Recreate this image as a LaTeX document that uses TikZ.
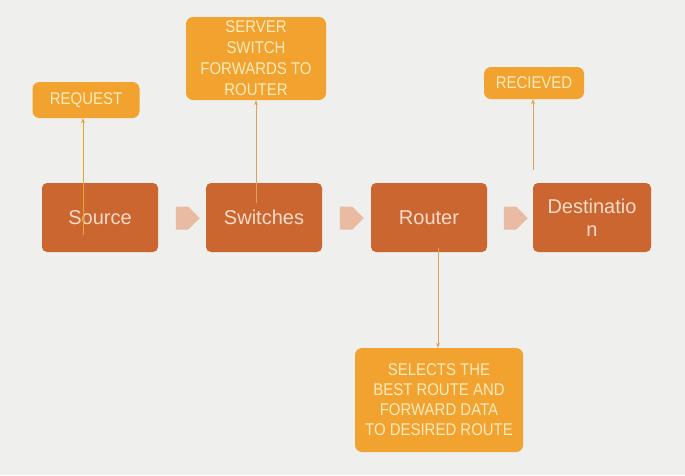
\documentclass[tikz,border=0pt]{standalone}
\usepackage{fontspec}
\setmainfont{Liberation Sans}
\newfontfamily\notefont[FakeStretch=0.88]{Liberation Sans}
\usetikzlibrary{arrows.meta,shapes.arrows}
\definecolor{bg}{HTML}{EFEFED}
\definecolor{mainbox}{HTML}{CC6631}
\definecolor{notebox}{HTML}{F2A22F}
\definecolor{chev}{HTML}{E8BBA2}
\definecolor{link}{HTML}{D9A460}
\definecolor{linkb}{HTML}{E9A42A}
\definecolor{maintext}{HTML}{F6DCC8}
\definecolor{notetext}{HTML}{FCEBBE}
\tikzset{
  mainnode/.style={fill=mainbox, rounded corners=5pt, minimum width=116pt, minimum height=69pt, text=maintext, font=\fontsize{20}{23}\selectfont, align=center, inner sep=0pt},
  notenode/.style={fill=notebox, rounded corners=7pt, text=notetext, font=\notefont\fontsize{17}{21}\selectfont, align=center, inner sep=0pt},
  chevron/.style={single arrow, fill=chev, minimum width=23pt, single arrow head extend=0pt, single arrow head indent=0pt, single arrow tip angle=90, minimum height=24pt, inner sep=0pt},
  linkline/.style={draw=link, line width=0.9pt, -{Stealth[length=5pt,width=4pt]}},
}
\begin{document}
\begin{tikzpicture}[x=1pt,y=-1pt]
\fill[bg] (0,0) rectangle (685,475);
\useasboundingbox (0,0) rectangle (685,475);
% main boxes
\node[mainnode] (src) at (100,217.5) {Source};
\node[mainnode] (sw) at (264,217.5) {Switches};
\node[mainnode] (rt) at (429,217.5) {Router};
\node[mainnode, minimum width=118pt] (dst) at (592,217.5) {Destinatio\\n};
% chevrons
\node[chevron] (c1) at (182,218) {};
\node[chevron] (c2) at (346,218) {};
\node[chevron] (c3) at (510,218) {};
% note boxes
\node[notenode, minimum width=107pt, minimum height=36pt] (req) at (86,100) {REQUEST};
\node[notenode, minimum width=140pt, minimum height=83pt] (srv) at (256,58.5) {SERVER\\SWITCH\\FORWARDS TO\\ROUTER};
\node[notenode, minimum width=100pt, minimum height=32pt] (rcv) at (534,83) {RECIEVED};
\node[notenode, minimum width=168pt, minimum height=104pt, font=\notefont\fontsize{17}{20}\selectfont] (sel) at (439,400) {SELECTS THE\\BEST ROUTE AND\\FORWARD DATA\\TO DESIRED ROUTE};
% links
\coordinate (p1) at (83,235);
\coordinate (p2) at (256,203);
\coordinate (p3) at (533,170);
\coordinate (p4) at (438,248);
\draw[linkline, draw=linkb] (p1) -- (p1 |- req.south);
\draw[linkline] (p2) -- (p2 |- srv.south);
\draw[linkline] (p3) -- (p3 |- rcv.south);
\draw[linkline] (p4) -- (p4 |- sel.north);
\end{tikzpicture}
\end{document}
